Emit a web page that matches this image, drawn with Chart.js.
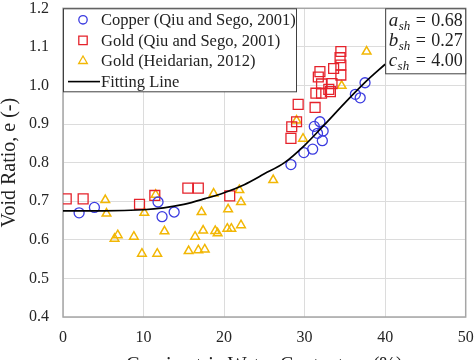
<!DOCTYPE html>
<html><head><meta charset="utf-8">
<script src="https://cdn.jsdelivr.net/npm/chart.js@4.4.1/dist/chart.umd.min.js"></script>
<style>html,body{margin:0;padding:0;background:#fff;overflow:hidden}#wrap{width:474px;height:360px}</style>
</head><body><div id="wrap"><canvas id="c" width="474" height="360"></canvas></div>
<script>
const xTickValues = [0, 10, 20, 30, 40, 50];
const xTickLabels = ['0', '10', '20', '30', '40', '50'];
const yTickValues = [0.4, 0.5, 0.6, 0.7, 0.8, 0.9, 1.0, 1.1, 1.2];
const yTickLabels = ['0.4', '0.5', '0.6', '0.7', '0.8', '0.9', '1.0', '1.1', '1.2'];

const seriesNames = ['Copper (Qiu and Sego, 2001)', 'Gold (Qiu and Sego, 2001)', 'Gold (Heidarian, 2012)', 'Fitting Line'];

const copperW = [2.0, 3.9, 11.8, 12.3, 13.8, 28.3, 29.9, 31.0, 31.2, 31.6, 31.9, 32.3, 32.2, 36.3, 36.9, 37.5];
const copperE = [0.670, 0.684, 0.698, 0.660, 0.672, 0.795, 0.826, 0.835, 0.894, 0.876, 0.906, 0.882, 0.857, 0.977, 0.968, 1.007];

const goldQiuW = [0.4, 2.5, 9.5, 11.4, 15.5, 16.8, 20.7, 28.3, 28.4, 29.0, 29.2, 31.3, 31.4, 32.1, 32.1, 31.7, 31.9, 33.0, 33.2, 33.4, 33.6, 34.5, 34.5, 34.4, 34.5];
const goldQiuE = [0.706, 0.706, 0.692, 0.715, 0.734, 0.734, 0.714, 0.863, 0.893, 0.906, 0.951, 0.943, 0.980, 0.980, 1.004, 1.022, 1.036, 0.990, 0.984, 1.005, 1.044, 1.027, 1.053, 1.072, 1.088];

const heidW = [5.25, 5.4, 6.4, 6.8, 8.8, 9.8, 10.1, 11.7, 11.5, 12.6, 15.6, 16.8, 17.6, 16.4, 17.2, 17.4, 18.7, 18.9, 19.2, 20.5, 20.4, 20.9, 21.9, 22.1, 22.1, 26.1, 29.0, 29.8, 34.6, 37.7];
const heidE = [0.703, 0.668, 0.603, 0.612, 0.608, 0.564, 0.670, 0.564, 0.717, 0.622, 0.571, 0.573, 0.575, 0.608, 0.672, 0.624, 0.720, 0.623, 0.617, 0.679, 0.629, 0.629, 0.729, 0.698, 0.638, 0.755, 0.909, 0.862, 0.999, 1.088];

const fitW = [0, 5, 10, 12.5, 15, 17.5, 20, 22.5, 25, 27.5, 30, 32.5, 35, 37.5, 40];
const fitE = [0.675, 0.675, 0.678, 0.683, 0.692, 0.706, 0.722, 0.743, 0.771, 0.800, 0.845, 0.899, 0.955, 1.008, 1.055];

const paramNames = ['a', 'b', 'c'];
const paramValues = ['0.68', '0.27', '4.00'];

const pts = (xs, ys) => xs.map((x, i) => ({x: x, y: ys[i]}));
const SERIF = '"Liberation Serif", "DejaVu Serif", serif';
const BLUE = '#3b3be0', RED = '#e5222b', GOLD = '#f2b705';

function drawMarker(ctx, style, x, y, r, color) {
  ctx.save();
  ctx.strokeStyle = color; ctx.lineWidth = 1.3;
  ctx.beginPath();
  if (style === 'circle') { ctx.arc(x, y, r, 0, Math.PI * 2); }
  else if (style === 'rect') { ctx.rect(x - r, y - r, 2 * r, 2 * r); }
  else if (style === 'triangle') {
    ctx.moveTo(x, y - r); ctx.lineTo(x + r * 0.866, y + r * 0.5); ctx.lineTo(x - r * 0.866, y + r * 0.5); ctx.closePath();
  }
  ctx.stroke();
  ctx.restore();
}

const boxPlugin = {
  id: 'boxes',
  beforeDatasetsDraw(chart) {
    const {ctx, chartArea: ca} = chart;
    ctx.save();
    ctx.strokeStyle = '#a6a6a6'; ctx.lineWidth = 1.5;
    ctx.strokeRect(ca.left, ca.top, ca.right - ca.left, ca.bottom - ca.top);
    ctx.restore();
  },
  afterDraw(chart) {
    const {ctx, chartArea: ca} = chart;
    // legend box
    ctx.save();
    const lx = ca.left + 0.5, ly = ca.top + 0.5, lw = 233, lh = 83;
    ctx.fillStyle = '#fff'; ctx.fillRect(lx, ly, lw, lh);
    ctx.strokeStyle = '#404040'; ctx.lineWidth = 1; ctx.strokeRect(lx, ly, lw, lh);
    const ds = chart.data.datasets;
    ctx.font = '16.5px ' + SERIF; ctx.fillStyle = '#222'; ctx.textBaseline = 'middle'; ctx.textAlign = 'left';
    for (let i = 0; i < ds.length; i++) {
      const yy = ca.top + 11.5 + i * 20.6;
      if (ds[i].showLine && ds[i].pointRadius === 0) {
        ctx.save(); ctx.strokeStyle = ds[i].borderColor; ctx.lineWidth = 1.6;
        ctx.beginPath(); ctx.moveTo(ca.left + 5, yy); ctx.lineTo(ca.left + 37, yy); ctx.stroke(); ctx.restore();
      } else {
        const r = ds[i].pointStyle === 'triangle' ? 5 : 4.2;
        drawMarker(ctx, ds[i].pointStyle, ca.left + 20, yy, r, ds[i].borderColor);
      }
      ctx.fillText(ds[i].label, ca.left + 38, yy + 1);
    }
    ctx.restore();
    // parameter box
    ctx.save();
    const px = chart.scales.x.getPixelForValue(40) + 0.5, py = ca.top + 0.5, pw = ca.right - px, ph = 65;
    ctx.fillStyle = '#fff'; ctx.fillRect(px, py, pw, ph);
    ctx.strokeStyle = '#404040'; ctx.lineWidth = 1; ctx.strokeRect(px, py, pw, ph);
    ctx.fillStyle = '#222'; ctx.textBaseline = 'alphabetic';
    for (let i = 0; i < paramNames.length; i++) {
      const base = ca.top + 17.5 + i * 20;
      ctx.font = 'italic 19px ' + SERIF; ctx.textAlign = 'left';
      ctx.fillText(paramNames[i], px + 3, base);
      const w1 = ctx.measureText(paramNames[i]).width;
      ctx.font = 'italic 13px ' + SERIF;
      ctx.fillText('sh', px + 3 + w1 + 0.5, base + 4);
      ctx.font = '18px ' + SERIF;
      ctx.fillText('=', px + 30, base);
      ctx.textAlign = 'right';
      ctx.fillText(paramValues[i], ca.right - 3, base);
    }
    ctx.restore();
  }
};

new Chart(document.getElementById('c'), {
  type: 'scatter',
  data: {
    datasets: [
      {label: seriesNames[0], data: pts(copperW, copperE), pointStyle: 'circle', pointRadius: 5, pointBorderWidth: 1.3,
       borderColor: BLUE, backgroundColor: 'rgba(0,0,0,0)', order: 1},
      {label: seriesNames[1], data: pts(goldQiuW, goldQiuE), pointStyle: 'rect', pointRadius: 7, pointBorderWidth: 1.3,
       borderColor: RED, backgroundColor: 'rgba(0,0,0,0)', order: 1},
      {label: seriesNames[2], data: pts(heidW, heidE), pointStyle: 'triangle', pointRadius: 5, pointBorderWidth: 1.5,
       borderColor: GOLD, backgroundColor: 'rgba(0,0,0,0)', order: 1},
      {type: 'line', label: seriesNames[3], data: pts(fitW, fitE), showLine: true, pointRadius: 0, borderColor: '#000',
       borderWidth: 1.7, fill: false, cubicInterpolationMode: 'monotone', order: 0}
    ]
  },
  options: {
    responsive: false, animation: false, devicePixelRatio: 1,
    layout: {padding: {left: 0, right: 8, top: 8, bottom: 0}},
    plugins: {legend: {display: false}, tooltip: {enabled: false}},
    scales: {
      x: {
        type: 'linear', min: 0, max: 50,
        afterBuildTicks: s => { s.ticks = xTickValues.map(v => ({value: v})); },
        ticks: {padding: 11, color: '#262626', font: {family: SERIF, size: 16}, maxRotation: 0,
                callback: (v, i) => xTickLabels[i]},
        grid: {color: '#dcdcdc', lineWidth: 1, drawTicks: false},
        border: {display: false},
        title: {display: true, text: 'Gravimetric Water Content, w (%)', color: '#222',
                font: {family: SERIF, size: 20, lineHeight: 1.2}, padding: {top: 0, bottom: -17.5}},
        afterFit: s => { s.height = 43; s.paddingLeft = 0; s.paddingRight = 0; }
      },
      y: {
        type: 'linear', min: 0.4, max: 1.2,
        afterBuildTicks: s => { s.ticks = yTickValues.map(v => ({value: v})); },
        ticks: {padding: 14, color: '#262626', font: {family: SERIF, size: 16},
                callback: (v, i) => yTickLabels[i]},
        grid: {color: '#dcdcdc', lineWidth: 1, drawTicks: false},
        border: {display: false},
        title: {display: true, text: 'Void Ratio, e (-)', color: '#222',
                font: {family: SERIF, size: 20, lineHeight: 1.2}, padding: {top: -2.75, bottom: 0}},
        afterFit: s => { s.width = 63; s.paddingTop = 0; s.paddingBottom = 0; }
      }
    }
  },
  plugins: [boxPlugin]
});
</script>
</body></html>
